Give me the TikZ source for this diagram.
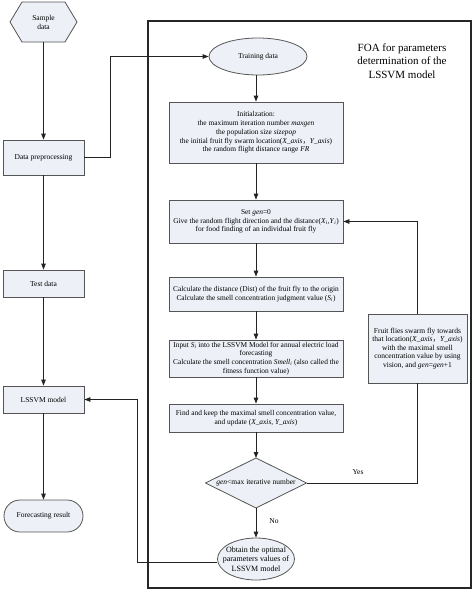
\documentclass[tikz,border=0pt]{standalone}
\usepackage{fontspec}
\setmainfont{Liberation Serif}
\newfontfamily\cjk{Noto Sans CJK SC}
\usetikzlibrary{shapes.geometric,arrows.meta}
\definecolor{boxfill}{RGB}{237,240,246}
\definecolor{boxline}{RGB}{85,85,85}
\definecolor{conn}{RGB}{35,35,35}
\newcommand{\isub}[2]{\textit{#1}\textsubscript{\textit{#2}}}
\tikzset{
  proc/.style={draw=boxline, fill=boxfill, line width=0.8pt, align=center, inner sep=1pt,
    font=\fontsize{7.4}{8.8}\selectfont},
  midbox/.style={proc, minimum width=174pt},
  leftbox/.style={proc, minimum width=81pt, font=\fontsize{7.5}{9}\selectfont},
  flow/.style={draw=conn, line width=0.8pt, -{Triangle[length=6pt,width=4.5pt]}},
  plain/.style={draw=conn, line width=0.8pt},
  lbl/.style={font=\fontsize{7.5}{9}\selectfont, inner sep=0pt},
}
\begin{document}
\begin{tikzpicture}[x=1pt,y=-1pt]
\useasboundingbox (0,0) rectangle (474,592);
% frame
\draw[line width=1.8pt, draw=black!85] (148,21) rectangle (471,588);
\node[font=\fontsize{11}{13.5}\selectfont, align=center] (title) at (402,61)
  {FOA for parameters\\determination of the\\LSSVM model};
% left column
\draw[draw=boxline, fill=boxfill, line width=0.8pt]
  (10,22) -- (22,2) -- (65,2) -- (77,22) -- (65,42) -- (22,42) -- cycle;
\node[align=center, font=\fontsize{7.5}{9}\selectfont, minimum width=67pt, minimum height=40pt, inner sep=0pt]
  (sample) at (43.5,22) {Sample\\data};
\node[leftbox, minimum height=35pt] (prep) at (43.5,157.5) {Data preprocessing};
\node[leftbox, minimum height=27pt] (test) at (43.5,283.5) {Test data};
\node[leftbox, minimum height=27pt] (lssvm) at (43.5,399.5) {LSSVM model};
\node[proc, rounded corners=16pt, minimum width=79pt, minimum height=32pt,
  font=\fontsize{7.5}{9}\selectfont] (fore) at (43.5,516) {Forecasting result};
% centre column
\node[proc, ellipse, minimum width=98pt, minimum height=37pt, inner sep=0pt,
  font=\fontsize{7.5}{9}\selectfont] (train) at (258,56.5) {Training data};
\node[midbox, minimum height=61pt] (init) at (256,132.5)
  {Initialzation:\\
   the maximum iteration number \textit{maxgen}\\
   the population size \textit{sizepop}\\
   the initial fruit fly swarm location(\textit{X\_axis}{\cjk ，}\textit{Y\_axis})\\
   the random flight distance range \textit{FR}};
\node[midbox, minimum height=43pt] (setg) at (256,221.5)
  {Set \textit{gen}=0\\
   Give the random flight direction and the distance(\isub{X}{i},\isub{Y}{i})\\
   for food finding of an individual fruit fly};
\node[midbox, minimum height=34pt] (calc) at (256,294)
  {Calculate the distance (Dist) of the fruit fly to the origin\\
   Calculate the smell concentration judgment value (\isub{S}{i})};
\node[midbox, minimum height=37pt] (input) at (256,358.5)
  {Input \isub{S}{i} into the LSSVM Model for annual electric load\\
   forecasting\\
   Calculate the smell concentration \isub{Smell}{i} (also called the\\
   fitness function value)};
\node[midbox, minimum height=28pt] (find) at (256,418)
  {Find and keep the maximal smell concentration value,\\
   and update (\textit{X\_axis, Y\_axis})};
% decision diamond
\coordinate (decN) at (256,458);
\coordinate (decS) at (256,508);
\coordinate (decW) at (205.5,483);
\coordinate (decE) at (306.5,483);
\draw[draw=boxline, fill=boxfill, line width=0.8pt] (decW) -- (decN) -- (decE) -- (decS) -- cycle;
\node[font=\fontsize{7.5}{9}\selectfont, inner sep=0pt] (dec) at (256,483)
  {\textit{gen}<max iterative number};
\node[proc, ellipse, minimum width=77pt, minimum height=42pt, inner xsep=-7pt, inner ysep=0pt,
  font=\fontsize{8}{9.5}\selectfont] (obtain) at (256,559)
  {Obtain the optimal\\parameters values of\\LSSVM model};
% fruit fly box
\node[proc, minimum width=99pt, minimum height=69pt, font=\fontsize{7.5}{8.4}\selectfont]
  (fly) at (417.5,348.5)
  {Fruit flies swarm fly towards\\
   that location(\textit{X\_axis}{\cjk ，}\textit{Y\_axis})\\
   with the maximal smell\\
   concentration value by using\\
   vision, and \textit{gen}=\textit{gen}+1};
% connectors left
\draw[flow] (sample) -- (prep);
\draw[flow] (prep) -- (test);
\draw[flow] (test) -- (lssvm);
\draw[flow] (lssvm) -- (fore);
\draw[flow] (prep.east) -- ++(26,0) |- (train.west);
% connectors centre
\draw[flow] (train.south -| init.north) -- (init.north);
\draw[flow] (init) -- (setg);
\draw[flow] (setg) -- (calc);
\draw[flow] (calc) -- (input);
\draw[flow] (input) -- (find);
\draw[flow] (find) -- (decN);
\draw[flow] (decS) -- (obtain);
\draw[plain] (decE) -| (fly.south);
\draw[flow] (fly.north) |- (setg.east);
\draw[flow] ([yshift=-3pt]obtain.west) -- ++(-80,0) |- (lssvm.east);
\node[lbl] (yes) at (358,472) {Yes};
\node[lbl] (no) at (274,521) {No};
\end{tikzpicture}
\end{document}
